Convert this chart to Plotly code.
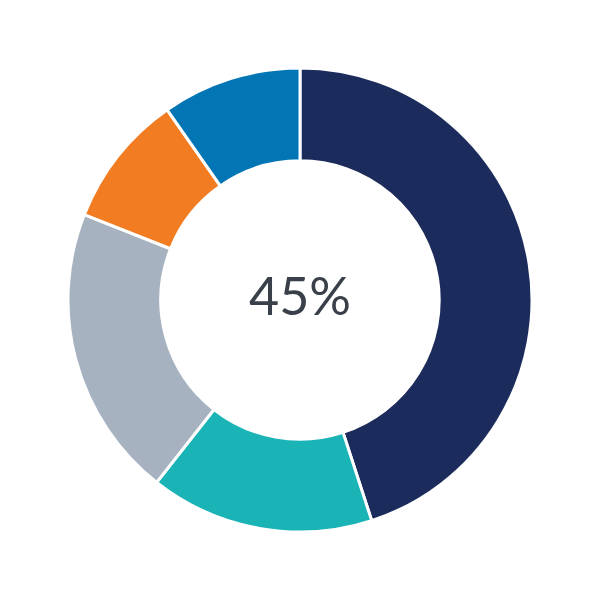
import plotly.graph_objects as go

labels = ["A", "B", "C", "D", "E"]
values = [45, 15.6, 20.4, 9.3, 9.7]
colors = ["#1b2b5b", "#1bb4b6", "#a7b2c1", "#f27c21", "#0275b5"]
center_label = "45%"

fig = go.Figure(go.Pie(
    labels=labels,
    values=values,
    hole=0.6,
    sort=False,
    direction="clockwise",
    rotation=0,
    marker=dict(colors=colors, line=dict(color="white", width=3)),
    textinfo="none",
    hoverinfo="label+percent",
))

fig.add_annotation(
    text=center_label, x=0.5, y=0.5, xref="paper", yref="paper",
    showarrow=False, yshift=5,
    font=dict(family="Lato", size=52, color="#3a4049"),
)

# page body adds 8px, so shift the domain up-left
fig.update_layout(
    width=600, height=599,
    margin=dict(l=60, r=76, t=60, b=75),
    showlegend=False,
    paper_bgcolor="white",
    plot_bgcolor="white",
)

fig.write_html("out.html")
